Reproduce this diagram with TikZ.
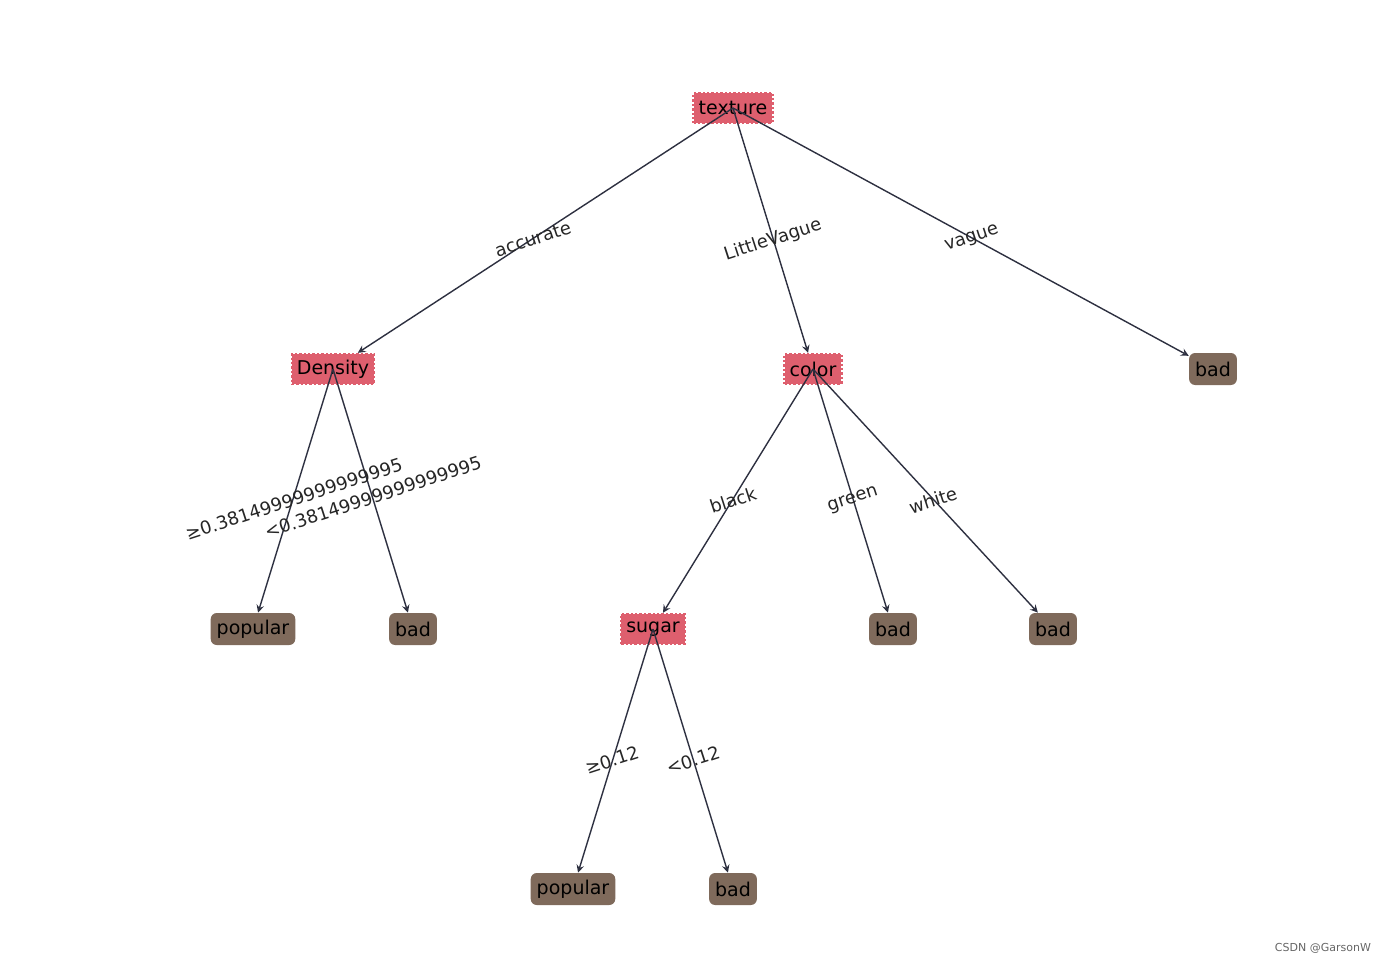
\documentclass[tikz,border=0pt]{standalone}
\usepackage{fontspec}
\setmainfont{DejaVu Sans}
\begin{document}
\begin{tikzpicture}[x=0.5pt,y=-0.5pt,
  dec/.style={fill=decred,draw=decred,densely dotted,line width=1.2pt,inner sep=2.5pt,minimum height=15pt,font=\fontsize{9.5}{10}\selectfont},
  leaf/.style={fill=leafbr,rounded corners=3pt,inner sep=3pt,minimum height=16pt,font=\fontsize{9.5}{10}\selectfont},
  edge/.style={draw=edgec,line width=0.7pt,-stealth},
  lab/.style={font=\fontsize{9}{10}\selectfont,text=black!85,rotate=18,inner sep=0pt}]
\definecolor{decred}{HTML}{DE5F6E}
\definecolor{leafbr}{HTML}{7F6A5B}
\definecolor{edgec}{HTML}{2D3040}
\useasboundingbox (0,0) rectangle (1392,966);
\node[dec] (t) at (733,108) {texture};
\node[dec] (d) at (333,369) {Density};
\node[dec] (c) at (813,369) {color};
\node[leaf] (b1) at (1213,369) {bad};
\node[leaf] (p1) at (253,629) {popular};
\node[leaf] (b2) at (413,629) {bad};
\node[dec] (s) at (653,629) {sugar};
\node[leaf] (b3) at (893,629) {bad};
\node[leaf] (b4) at (1053,629) {bad};
\node[leaf] (p2) at (573,889) {popular};
\node[leaf] (b5) at (733,889) {bad};
\draw[edge] (t.center) -- (d);
\draw[edge] (t.center) -- (c);
\draw[edge] (t.center) -- (b1);
\draw[edge] (d.center) -- (p1);
\draw[edge] (d.center) -- (b2);
\draw[edge] (c.center) -- (s);
\draw[edge] (c.center) -- (b3);
\draw[edge] (c.center) -- (b4);
\draw[edge] (s.center) -- (p2);
\draw[edge] (s.center) -- (b5);
\node[lab] (l1) at (533,239) {accurate};
\node[lab] (l2) at (773,240) {LittleVague};
\node[lab] (l3) at (972,239) {vague};
\node[lab] (l4) at (294,499) {≥0.38149999999999995};
\node[lab] (l5) at (373,497) {<0.38149999999999995};
\node[lab] (l6) at (733,500) {black};
\node[lab] (l7) at (853,500) {green};
\node[lab] (l8) at (933,500) {white};
\node[lab] (l9) at (612,760) {≥0.12};
\node[lab] (l10) at (693,760) {<0.12};
\node[font=\fontsize{5.5}{6}\selectfont,text=black!60,anchor=south east] (w) at (1378,960) {CSDN @GarsonW};
\end{tikzpicture}
\end{document}
